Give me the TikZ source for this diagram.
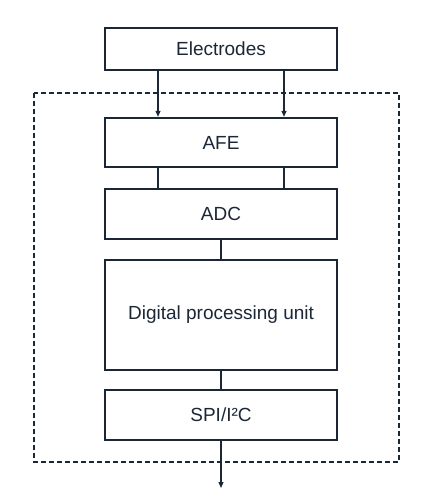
\documentclass[tikz,border=0pt]{standalone}
\usepackage{fontspec}
\setmainfont{Liberation Sans}
\usetikzlibrary{arrows.meta}
\definecolor{navy}{HTML}{1B2736}
\begin{document}
\begin{tikzpicture}[x=1pt,y=-1pt,
  blk/.style={draw=navy,line width=2.4pt,minimum width=232pt,inner sep=0pt,font=\fontsize{19}{22}\selectfont,text=navy},
  conn/.style={draw=navy,line width=1.3pt},
  arr/.style={conn,-{Triangle[length=6pt,width=5pt]}},
  frame/.style={draw=navy,line width=1.5pt,dash pattern=on 5pt off 3pt}]
\useasboundingbox (0,0) rectangle (438,503);
\node[blk,minimum height=42pt] (E) at (221,49) {Electrodes};
\node[blk,minimum height=49pt] (A) at (221,142.5) {AFE};
\node[blk,minimum height=50pt] (D) at (221,214) {ADC};
\node[blk,minimum height=110pt] (P) at (221,315) {Digital processing unit};
\node[blk,minimum height=50pt] (S) at (221,415) {SPI/I²C};
\draw[frame] (34,93) rectangle (399,462);
\coordinate (out) at (221,488);
\draw[arr] ([xshift=-63pt]E.south) -- ([xshift=-63pt]A.north);
\draw[arr] ([xshift=63pt]E.south) -- ([xshift=63pt]A.north);
\draw[conn] ([xshift=-63pt]A.south) -- ([xshift=-63pt]D.north);
\draw[conn] ([xshift=63pt]A.south) -- ([xshift=63pt]D.north);
\draw[conn] (D.south) -- (P.north);
\draw[conn] (P.south) -- (S.north);
\draw[arr] (S.south) -- (out);
\end{tikzpicture}
\end{document}
